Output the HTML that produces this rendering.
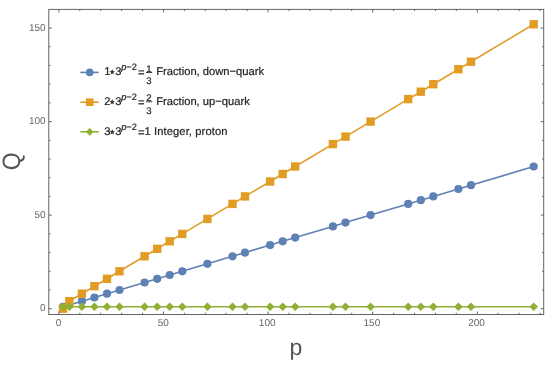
<!DOCTYPE html>
<html><head><meta charset="utf-8"><title>Q vs p</title>
<style>html,body{margin:0;padding:0;background:#fff}svg{display:block}text{font-family:"Liberation Sans","DejaVu Sans",sans-serif;text-rendering:geometricPrecision}.tk{font-size:10px;fill:#666}.ax{font-size:23px;fill:#555}.lg{font-size:11.2px;fill:#262626;stroke:#262626;stroke-width:0.22px}.st{font-family:"DejaVu Sans",sans-serif}</style></head><body>
<svg width="550" height="366" viewBox="0 0 550 366">
<rect width="550" height="366" fill="#fff"/>
<polyline fill="none" stroke="#5E81B5" stroke-width="1.60" stroke-linejoin="round" points="63.0,306.8 69.3,305.0 81.9,301.2 94.4,297.5 107.0,293.7 119.5,290.0 144.6,282.5 157.2,278.8 169.7,275.0 182.3,271.3 207.4,263.8 232.5,256.3 245.0,252.6 270.1,245.1 282.7,241.3 295.2,237.6 332.9,226.4 345.5,222.6 370.6,215.1 408.2,203.9 420.8,200.2 433.3,196.4 458.4,189.0 471.0,185.2 533.7,166.5"/>
<g fill="#5E81B5"><circle cx="63.0" cy="306.8" r="4.1"/><circle cx="69.3" cy="305.0" r="4.1"/><circle cx="81.9" cy="301.2" r="4.1"/><circle cx="94.4" cy="297.5" r="4.1"/><circle cx="107.0" cy="293.7" r="4.1"/><circle cx="119.5" cy="290.0" r="4.1"/><circle cx="144.6" cy="282.5" r="4.1"/><circle cx="157.2" cy="278.8" r="4.1"/><circle cx="169.7" cy="275.0" r="4.1"/><circle cx="182.3" cy="271.3" r="4.1"/><circle cx="207.4" cy="263.8" r="4.1"/><circle cx="232.5" cy="256.3" r="4.1"/><circle cx="245.0" cy="252.6" r="4.1"/><circle cx="270.1" cy="245.1" r="4.1"/><circle cx="282.7" cy="241.3" r="4.1"/><circle cx="295.2" cy="237.6" r="4.1"/><circle cx="332.9" cy="226.4" r="4.1"/><circle cx="345.5" cy="222.6" r="4.1"/><circle cx="370.6" cy="215.1" r="4.1"/><circle cx="408.2" cy="203.9" r="4.1"/><circle cx="420.8" cy="200.2" r="4.1"/><circle cx="433.3" cy="196.4" r="4.1"/><circle cx="458.4" cy="189.0" r="4.1"/><circle cx="471.0" cy="185.2" r="4.1"/><circle cx="533.7" cy="166.5" r="4.1"/></g>
<polyline fill="none" stroke="#E19C24" stroke-width="1.60" stroke-linejoin="round" points="63.0,308.7 69.3,301.2 81.9,293.7 94.4,286.2 107.0,278.8 119.5,271.3 144.6,256.3 157.2,248.8 169.7,241.3 182.3,233.9 207.4,218.9 232.5,203.9 245.0,196.4 270.1,181.5 282.7,174.0 295.2,166.5 332.9,144.1 345.5,136.6 370.6,121.6 408.2,99.1 420.8,91.7 433.3,84.2 458.4,69.2 471.0,61.7 533.7,24.3"/>
<g fill="#E19C24"><rect x="58.8" y="304.5" width="8.4" height="8.4"/><rect x="65.1" y="297.0" width="8.4" height="8.4"/><rect x="77.7" y="289.5" width="8.4" height="8.4"/><rect x="90.2" y="282.0" width="8.4" height="8.4"/><rect x="102.8" y="274.6" width="8.4" height="8.4"/><rect x="115.3" y="267.1" width="8.4" height="8.4"/><rect x="140.4" y="252.1" width="8.4" height="8.4"/><rect x="153.0" y="244.6" width="8.4" height="8.4"/><rect x="165.5" y="237.1" width="8.4" height="8.4"/><rect x="178.1" y="229.7" width="8.4" height="8.4"/><rect x="203.2" y="214.7" width="8.4" height="8.4"/><rect x="228.3" y="199.7" width="8.4" height="8.4"/><rect x="240.8" y="192.2" width="8.4" height="8.4"/><rect x="265.9" y="177.3" width="8.4" height="8.4"/><rect x="278.5" y="169.8" width="8.4" height="8.4"/><rect x="291.0" y="162.3" width="8.4" height="8.4"/><rect x="328.7" y="139.9" width="8.4" height="8.4"/><rect x="341.3" y="132.4" width="8.4" height="8.4"/><rect x="366.4" y="117.4" width="8.4" height="8.4"/><rect x="404.0" y="94.9" width="8.4" height="8.4"/><rect x="416.6" y="87.5" width="8.4" height="8.4"/><rect x="429.1" y="80.0" width="8.4" height="8.4"/><rect x="454.2" y="65.0" width="8.4" height="8.4"/><rect x="466.8" y="57.5" width="8.4" height="8.4"/><rect x="529.5" y="20.1" width="8.4" height="8.4"/></g>
<polyline fill="none" stroke="#8FB032" stroke-width="1.60" stroke-linejoin="round" points="63.0,306.8 69.3,306.8 81.9,306.8 94.4,306.8 107.0,306.8 119.5,306.8 144.6,306.8 157.2,306.8 169.7,306.8 182.3,306.8 207.4,306.8 232.5,306.8 245.0,306.8 270.1,306.8 282.7,306.8 295.2,306.8 332.9,306.8 345.5,306.8 370.6,306.8 408.2,306.8 420.8,306.8 433.3,306.8 458.4,306.8 471.0,306.8 533.7,306.8"/>
<g fill="#8FB032"><path d="M63.0 302.5l4.3 4.3l-4.3 4.3l-4.3 -4.3z"/><path d="M69.3 302.5l4.3 4.3l-4.3 4.3l-4.3 -4.3z"/><path d="M81.9 302.5l4.3 4.3l-4.3 4.3l-4.3 -4.3z"/><path d="M94.4 302.5l4.3 4.3l-4.3 4.3l-4.3 -4.3z"/><path d="M107.0 302.5l4.3 4.3l-4.3 4.3l-4.3 -4.3z"/><path d="M119.5 302.5l4.3 4.3l-4.3 4.3l-4.3 -4.3z"/><path d="M144.6 302.5l4.3 4.3l-4.3 4.3l-4.3 -4.3z"/><path d="M157.2 302.5l4.3 4.3l-4.3 4.3l-4.3 -4.3z"/><path d="M169.7 302.5l4.3 4.3l-4.3 4.3l-4.3 -4.3z"/><path d="M182.3 302.5l4.3 4.3l-4.3 4.3l-4.3 -4.3z"/><path d="M207.4 302.5l4.3 4.3l-4.3 4.3l-4.3 -4.3z"/><path d="M232.5 302.5l4.3 4.3l-4.3 4.3l-4.3 -4.3z"/><path d="M245.0 302.5l4.3 4.3l-4.3 4.3l-4.3 -4.3z"/><path d="M270.1 302.5l4.3 4.3l-4.3 4.3l-4.3 -4.3z"/><path d="M282.7 302.5l4.3 4.3l-4.3 4.3l-4.3 -4.3z"/><path d="M295.2 302.5l4.3 4.3l-4.3 4.3l-4.3 -4.3z"/><path d="M332.9 302.5l4.3 4.3l-4.3 4.3l-4.3 -4.3z"/><path d="M345.5 302.5l4.3 4.3l-4.3 4.3l-4.3 -4.3z"/><path d="M370.6 302.5l4.3 4.3l-4.3 4.3l-4.3 -4.3z"/><path d="M408.2 302.5l4.3 4.3l-4.3 4.3l-4.3 -4.3z"/><path d="M420.8 302.5l4.3 4.3l-4.3 4.3l-4.3 -4.3z"/><path d="M433.3 302.5l4.3 4.3l-4.3 4.3l-4.3 -4.3z"/><path d="M458.4 302.5l4.3 4.3l-4.3 4.3l-4.3 -4.3z"/><path d="M471.0 302.5l4.3 4.3l-4.3 4.3l-4.3 -4.3z"/><path d="M533.7 302.5l4.3 4.3l-4.3 4.3l-4.3 -4.3z"/></g>
<path d="M58.9 314.5v-3.0M58.9 9.4v3.0M79.8 314.5v-1.7M79.8 9.4v1.7M100.7 314.5v-1.7M100.7 9.4v1.7M121.6 314.5v-1.7M121.6 9.4v1.7M142.5 314.5v-1.7M142.5 9.4v1.7M163.5 314.5v-3.0M163.5 9.4v3.0M184.4 314.5v-1.7M184.4 9.4v1.7M205.3 314.5v-1.7M205.3 9.4v1.7M226.2 314.5v-1.7M226.2 9.4v1.7M247.1 314.5v-1.7M247.1 9.4v1.7M268.1 314.5v-3.0M268.1 9.4v3.0M289.0 314.5v-1.7M289.0 9.4v1.7M309.9 314.5v-1.7M309.9 9.4v1.7M330.8 314.5v-1.7M330.8 9.4v1.7M351.7 314.5v-1.7M351.7 9.4v1.7M372.7 314.5v-3.0M372.7 9.4v3.0M393.6 314.5v-1.7M393.6 9.4v1.7M414.5 314.5v-1.7M414.5 9.4v1.7M435.4 314.5v-1.7M435.4 9.4v1.7M456.3 314.5v-1.7M456.3 9.4v1.7M477.3 314.5v-3.0M477.3 9.4v3.0M498.2 314.5v-1.7M498.2 9.4v1.7M519.1 314.5v-1.7M519.1 9.4v1.7M540.0 314.5v-1.7M540.0 9.4v1.7M48.8 308.7h3.0M543.7 308.7h-3.0M48.8 290.0h1.7M543.7 290.0h-1.7M48.8 271.3h1.7M543.7 271.3h-1.7M48.8 252.6h1.7M543.7 252.6h-1.7M48.8 233.9h1.7M543.7 233.9h-1.7M48.8 215.1h3.0M543.7 215.1h-3.0M48.8 196.4h1.7M543.7 196.4h-1.7M48.8 177.7h1.7M543.7 177.7h-1.7M48.8 159.0h1.7M543.7 159.0h-1.7M48.8 140.3h1.7M543.7 140.3h-1.7M48.8 121.6h3.0M543.7 121.6h-3.0M48.8 102.9h1.7M543.7 102.9h-1.7M48.8 84.2h1.7M543.7 84.2h-1.7M48.8 65.5h1.7M543.7 65.5h-1.7M48.8 46.8h1.7M543.7 46.8h-1.7M48.8 28.1h3.0M543.7 28.1h-3.0" stroke="#636363" stroke-width="1" fill="none"/>
<rect x="48.8" y="9.4" width="494.9" height="305.1" fill="none" stroke="#636363" stroke-width="1"/>
<text class="tk" transform="translate(58.6,326.0) scale(1.000,1)" text-anchor="middle">0</text>
<text class="tk" transform="translate(163.2,326.0) scale(1.000,1)" text-anchor="middle">50</text>
<text class="tk" transform="translate(267.2,326.0) scale(1.000,1)" text-anchor="middle">100</text>
<text class="tk" transform="translate(371.9,326.0) scale(1.000,1)" text-anchor="middle">150</text>
<text class="tk" transform="translate(476.5,326.0) scale(1.000,1)" text-anchor="middle">200</text>
<text class="tk" transform="translate(45.6,311.2) scale(1.000,1)" text-anchor="end">0</text>
<text class="tk" transform="translate(45.6,217.6) scale(1.000,1)" text-anchor="end">50</text>
<text class="tk" transform="translate(45.6,124.1) scale(1.000,1)" text-anchor="end">100</text>
<text class="tk" transform="translate(45.6,30.6) scale(1.000,1)" text-anchor="end">150</text>
<text class="ax" x="295.8" y="354.6" font-size="24.5" text-anchor="middle">p</text>
<text class="ax" transform="translate(19.9,161.2) rotate(-90) scale(1,1.09)" text-anchor="middle">Q</text>
<path d="M80.3 72.4H98.7" stroke="#5E81B5" stroke-width="1.60"/>
<circle cx="89.7" cy="72.4" r="3.8" fill="#5E81B5"/>
<text class="lg" y="75.4"><tspan x="104.3">1</tspan><tspan class="st" font-size="12.5" x="108.3" dy="0.9">⋆</tspan><tspan x="115.2" dy="-0.9">3</tspan><tspan font-size="9.2" x="121.2" y="70.4"><tspan font-style="italic">p</tspan>−2</tspan><tspan x="137.9" y="76.4">=</tspan><tspan font-size="9.6" x="146.3" y="71.5">1</tspan><tspan font-size="9.6" x="146.3" y="84.2">3</tspan><tspan x="156.2" y="75.4">Fraction, down−quark</tspan></text>
<path d="M146 72.5h6.2" stroke="#2b2b2b" stroke-width="0.9"/>
<path d="M80.3 102.2H98.7" stroke="#E19C24" stroke-width="1.60"/>
<rect x="85.9" y="98.4" width="7.6" height="7.6" fill="#E19C24"/>
<text class="lg" y="104.7"><tspan x="104.3">2</tspan><tspan class="st" font-size="12.5" x="108.3" dy="0.9">⋆</tspan><tspan x="115.2" dy="-0.9">3</tspan><tspan font-size="9.2" x="121.2" y="99.7"><tspan font-style="italic">p</tspan>−2</tspan><tspan x="137.9" y="105.7">=</tspan><tspan font-size="9.6" x="146.3" y="100.8">2</tspan><tspan font-size="9.6" x="146.3" y="113.5">3</tspan><tspan x="156.2" y="104.7">Fraction, up−quark</tspan></text>
<path d="M146 101.8h6.2" stroke="#2b2b2b" stroke-width="0.9"/>
<path d="M80.3 131.8H98.7" stroke="#8FB032" stroke-width="1.60"/>
<path d="M89.7 127.9l3.9 3.9l-3.9 3.9l-3.9 -3.9z" fill="#8FB032"/>
<text class="lg" y="135.1"><tspan x="104.3">3</tspan><tspan class="st" font-size="12.5" x="108.3" dy="0.9">⋆</tspan><tspan x="115.2" dy="-0.9">3</tspan><tspan font-size="9.2" x="121.2" y="130.1"><tspan font-style="italic">p</tspan>−2</tspan><tspan x="137.9" y="136.1">=</tspan><tspan x="144.4" y="135.1" letter-spacing="0.1">1 Integer, proton</tspan></text>
</svg></body></html>
